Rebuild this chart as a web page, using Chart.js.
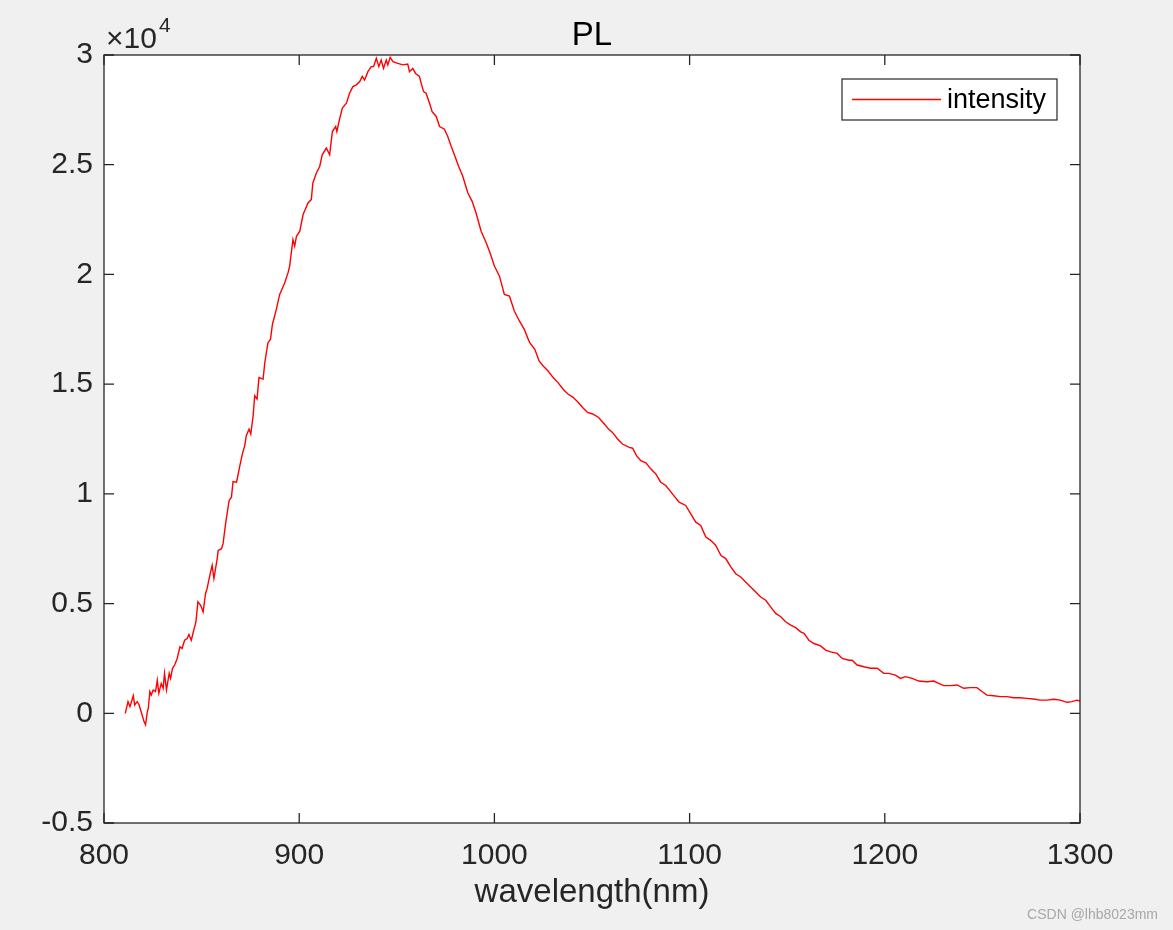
<!DOCTYPE html>
<html>
<head>
<meta charset="utf-8">
<title>PL</title>
<script src="https://cdn.jsdelivr.net/npm/chart.js@4/dist/chart.umd.min.js"></script>
<style>
  html, body { margin: 0; padding: 0; background: #f0f0f0; }
  #wrap { width: 1173px; height: 930px; }
</style>
</head>
<body>
<div id="wrap"><canvas id="plChart" width="1173" height="930"></canvas></div>
<script>
// PL spectrum, values (intensity in counts)
var wavelength = [
  810.9, 812.3, 813.3, 815.0, 815.7, 817.0, 818.0, 819.0, 820.5, 821.3,
  822.2, 822.7, 823.5, 824.2, 825.2, 826.4, 827.3, 828.1, 829.3, 830.3,
  831.0, 832.0, 833.4, 834.1, 835.1, 836.2, 837.5, 838.9, 840.0, 841.3,
  842.6, 843.5, 844.7, 846.0, 847.1, 848.1, 849.5, 850.8, 852.0, 852.8,
  854.6, 855.4, 856.3, 858.0, 858.5, 860.2, 861.0, 862.4, 864.1, 865.3,
  866.1, 867.9, 869.6, 870.9, 872.1, 872.9, 874.3, 875.2, 876.4, 877.2,
  878.4, 879.4, 881.5, 882.4, 884.0, 885.3, 886.3, 888.3, 890.0, 892.6,
  894.3, 895.1, 896.8, 897.7, 898.6, 900.3, 902.0, 904.5, 906.2, 907.0,
  908.8, 910.5, 911.8, 913.9, 915.6, 917.0, 918.7, 919.3, 920.4, 922.1,
  924.2, 925.8, 927.5, 929.3, 931.0, 932.3, 933.5, 935.2, 936.9, 938.1,
  939.5, 940.8, 942.0, 943.2, 944.6, 945.4, 946.6, 948.0, 950.5, 953.1,
  955.6, 956.5, 958.2, 959.6, 961.6, 962.5, 963.7, 965.0, 966.8, 968.1,
  970.2, 971.9, 974.4, 976.1, 977.9, 979.5, 981.7, 983.8, 986.4, 988.6,
  990.6, 993.2, 995.8, 997.8, 1000.0, 1002.6, 1005.1, 1007.7, 1010.2, 1012.8,
  1015.3, 1017.0, 1018.1, 1020.7, 1022.9, 1025.0, 1027.5, 1030.1, 1032.6, 1035.2,
  1037.7, 1040.3, 1042.9, 1045.2, 1047.7, 1050.3, 1053.4, 1056.3, 1058.5, 1060.5,
  1063.1, 1065.6, 1069.1, 1070.8, 1072.8, 1075.0, 1077.6, 1080.1, 1082.7, 1085.2,
  1087.8, 1091.2, 1094.6, 1098.0, 1100.6, 1103.2, 1105.7, 1108.3, 1110.8, 1113.4,
  1116.0, 1118.5, 1121.1, 1123.6, 1126.2, 1128.7, 1131.3, 1133.9, 1136.4, 1139.0,
  1141.5, 1144.1, 1146.7, 1149.2, 1151.8, 1154.3, 1156.9, 1158.6, 1161.1, 1163.7,
  1167.1, 1169.7, 1172.2, 1175.6, 1178.2, 1181.6, 1183.3, 1185.8, 1189.3, 1192.7,
  1196.1, 1199.5, 1202.0, 1205.5, 1208.0, 1210.6, 1214.0, 1217.4, 1221.6, 1225.1,
  1227.6, 1230.2, 1233.6, 1237.0, 1240.4, 1243.8, 1247.2, 1249.8, 1252.3, 1255.7,
  1259.2, 1262.6, 1266.0, 1269.4, 1272.8, 1276.2, 1279.6, 1283.1, 1286.5, 1289.9,
  1293.3, 1295.8, 1298.4, 1300.0
];
var intensity = [
  0, 530, 300, 800, 380, 530, 380, 80, -380, -530,
  80, 230, 990, 830, 1060, 990, 1510, 910, 1360, 1140,
  1820, 1060, 1820, 1590, 2050, 2200, 2500, 3030, 2950, 3330,
  3410, 3590, 3330, 3790, 4170, 5080, 4920, 4620, 5450, 5680,
  6440, 6740, 6140, 7050, 7420, 7500, 7730, 8710, 9700, 9850,
  10560, 10530, 11290, 11820, 12200, 12650, 12950, 12730, 13560, 14470,
  14320, 15300, 15230, 15990, 16890, 17050, 17730, 18410, 19090, 19620,
  20080, 20380, 21590, 21290, 21740, 21970, 22730, 23260, 23410, 24170,
  24620, 24920, 25450, 25760, 25450, 26510, 26740, 26510, 26970, 27580,
  27800, 28260, 28560, 28640, 28790, 29020, 28860, 29240, 29470, 29470,
  29850, 29470, 29770, 29390, 29770, 29550, 29890, 29700, 29620, 29550,
  29590, 29240, 29390, 29160, 29020, 28710, 28330, 28260, 27800, 27420,
  27200, 26740, 26620, 26290, 25830, 25450, 24920, 24470, 23710, 23330,
  22800, 21970, 21440, 20980, 20380, 19920, 19090, 19010, 18330, 17880,
  17500, 17120, 16890, 16590, 16060, 15830, 15600, 15300, 15070, 14770,
  14550, 14400, 14170, 13940, 13710, 13640, 13480, 13180, 12950, 12800,
  12500, 12270, 12120, 12080, 11740, 11510, 11410, 11140, 10910, 10530,
  10380, 10000, 9620, 9470, 9090, 8710, 8560, 8030, 7880, 7650,
  7200, 7050, 6670, 6360, 6210, 5980, 5760, 5530, 5300, 5150,
  4850, 4550, 4400, 4170, 4020, 3900, 3710, 3640, 3330, 3180,
  3070, 2880, 2800, 2730, 2500, 2420, 2420, 2200, 2120, 2050,
  2050, 1820, 1820, 1740, 1590, 1670, 1590, 1470, 1440, 1470,
  1360, 1260, 1260, 1290, 1140, 1170, 1170, 990, 830, 800,
  760, 760, 710, 710, 680, 650, 600, 600, 640, 600,
  500, 530, 600, 560
];
var xTicks = [800, 900, 1000, 1100, 1200, 1300];
var yTicks = [-5000, 0, 5000, 10000, 15000, 20000, 25000, 30000];

var axisColor = '#262626';
var fontName = '"Liberation Sans", Arial, Helvetica, sans-serif';
Chart.defaults.font.family = fontName;

// grey figure background, white axes, box with inward ticks, title, x10^4 and legend
var matlabLook = {
    id: 'matlabLook',
    beforeDraw: function (chart) {
        var ctx = chart.ctx, a = chart.chartArea;
        ctx.save();
        ctx.fillStyle = '#f0f0f0';
        ctx.fillRect(0, 0, chart.width, chart.height);
        ctx.fillStyle = '#ffffff';
        ctx.fillRect(a.left, a.top, a.right - a.left, a.bottom - a.top);
        ctx.restore();
    },
    afterDraw: function (chart) {
        var ctx = chart.ctx, a = chart.chartArea;
        var xs = chart.scales.x, ys = chart.scales.y;
        ctx.save();
        ctx.strokeStyle = axisColor;
        ctx.lineWidth = 1.3;
        ctx.beginPath();
        xTicks.forEach(function (v) {
            var px = xs.getPixelForValue(v);
            ctx.moveTo(px, a.bottom); ctx.lineTo(px, a.bottom - 10);
            ctx.moveTo(px, a.top); ctx.lineTo(px, a.top + 10);
        });
        yTicks.forEach(function (v) {
            var py = ys.getPixelForValue(v);
            ctx.moveTo(a.left, py); ctx.lineTo(a.left + 10, py);
            ctx.moveTo(a.right, py); ctx.lineTo(a.right - 10, py);
        });
        ctx.stroke();
        ctx.strokeRect(a.left, a.top, a.right - a.left, a.bottom - a.top);

        // title, centred over the axes
        ctx.fillStyle = '#000000';
        ctx.textAlign = 'center';
        ctx.textBaseline = 'alphabetic';
        ctx.font = '33px ' + fontName;
        ctx.fillText('PL', (a.left + a.right) / 2, a.top - 10);

        // exponent label
        ctx.fillStyle = axisColor;
        ctx.textAlign = 'left';
        ctx.font = '30px ' + fontName;
        ctx.fillText('\u00d710', a.left + 2, a.top - 7);
        var w = ctx.measureText('\u00d710').width;
        ctx.font = '21px ' + fontName;
        ctx.fillText('4', a.left + 2 + w + 2, a.top - 23);

        // legend
        var ds = chart.data.datasets[0];
        var bx = a.right - 238, by = a.top + 24, bw = 215, bh = 41;
        ctx.fillStyle = '#ffffff';
        ctx.fillRect(bx, by, bw, bh);
        ctx.lineWidth = 1.2;
        ctx.strokeStyle = axisColor;
        ctx.strokeRect(bx, by, bw, bh);
        ctx.strokeStyle = ds.borderColor;
        ctx.lineWidth = 1.5;
        ctx.beginPath();
        ctx.moveTo(bx + 10, by + bh / 2);
        ctx.lineTo(bx + 99, by + bh / 2);
        ctx.stroke();
        ctx.fillStyle = '#000000';
        ctx.font = '27px ' + fontName;
        ctx.textBaseline = 'middle';
        ctx.fillText(ds.label, bx + 105, by + bh / 2 + 1);

        // watermark
        ctx.fillStyle = '#a8a8a8';
        ctx.font = '14px ' + fontName;
        ctx.textAlign = 'right';
        ctx.fillText('CSDN @lhb8023mm', 1158, 915);
        ctx.restore();
    }
};

var points = wavelength.map(function (w, i) { return { x: w, y: intensity[i] }; });

new Chart(document.getElementById('plChart').getContext('2d'), {
    type: 'line',
    data: {
        datasets: [{
            label: 'intensity',
            data: points,
            borderColor: '#ff0000',
            borderWidth: 1.4,
            pointRadius: 0,
            tension: 0,
            fill: false
        }]
    },
    options: {
        responsive: false,
        devicePixelRatio: 1,
        animation: false,
        layout: { padding: { left: 0, right: 93, top: 55, bottom: 0 } },
        plugins: {
            legend: { display: false },
            tooltip: { enabled: false },
            title: { display: false }
        },
        scales: {
            x: {
                type: 'linear',
                min: 800,
                max: 1300,
                afterBuildTicks: function (s) { s.ticks = xTicks.map(function (v) { return { value: v }; }); },
                ticks: {
                    color: axisColor,
                    font: { size: 30 },
                    padding: 15,
                    maxRotation: 0,
                    autoSkip: false,
                    callback: function (v) { return String(v); }
                },
                grid: { display: false, drawTicks: false },
                border: { display: false },
                title: {
                    display: true,
                    text: 'wavelength(nm)',
                    color: axisColor,
                    font: { size: 33 },
                    padding: { top: 0, bottom: 17 }
                },
                afterFit: function (s) { s.height = 107; }
            },
            y: {
                type: 'linear',
                min: -5000,
                max: 30000,
                afterBuildTicks: function (s) { s.ticks = yTicks.map(function (v) { return { value: v }; }); },
                ticks: {
                    color: axisColor,
                    font: { size: 30 },
                    padding: 11,
                    callback: function (v) { return String(v / 10000); }
                },
                grid: { display: false, drawTicks: false },
                border: { display: false },
                afterFit: function (s) { s.width = 104; }
            }
        }
    },
    plugins: [matlabLook]
});
</script>
</body>
</html>
